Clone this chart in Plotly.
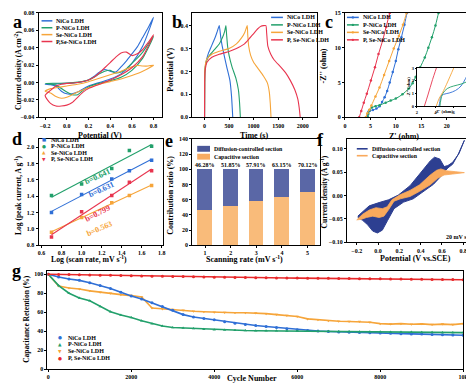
import plotly.graph_objects as go
import numpy as np

FONT = "Liberation Serif"
W, H = 474, 383
C_BLUE, C_GREEN, C_ORANGE, C_RED = "#2f6fd6", "#22a06b", "#f6a53a", "#e8354f"
NAMES = ["NiCo LDH", "P-NiCo LDH", "Se-NiCo LDH", "P, Se-NiCo LDH"]
COLS = [C_BLUE, C_GREEN, C_ORANGE, C_RED]

# ---------------- (a) CV curves ----------------
a_nico_x = [-0.2, -0.1, 0.0, 0.1, 0.2, 0.25, 0.3, 0.35, 0.4, 0.45, 0.5, 0.55, 0.6, 0.65, 0.7, 0.75, 0.8,
            0.7, 0.6, 0.5, 0.4, 0.3, 0.2, 0.1, 0.05, 0.0, -0.05, -0.1, -0.15, -0.2]
a_nico_y = [-0.002, -0.0015, -0.001, 0.0, 0.003, 0.007, 0.012, 0.015, 0.013, 0.012, 0.018, 0.025, 0.033, 0.041, 0.052, 0.063, 0.075,
            0.042, 0.022, 0.010, 0.004, 0.0, -0.004, -0.011, -0.013, -0.013, -0.010, -0.004, -0.0025, -0.002]
a_pnico_x = [-0.2, -0.1, 0.0, 0.1, 0.2, 0.25, 0.3, 0.35, 0.4, 0.45, 0.5, 0.55, 0.6, 0.65, 0.7, 0.75, 0.8,
             0.7, 0.6, 0.5, 0.4, 0.3, 0.2, 0.15, 0.1, 0.05, 0.0, -0.1, -0.2]
a_pnico_y = [-0.001, -0.0008, -0.0005, 0.0005, 0.003, 0.006, 0.010, 0.013, 0.014, 0.011, 0.012, 0.016, 0.022, 0.028, 0.035, 0.044, 0.053,
             0.028, 0.014, 0.006, 0.002, -0.001, -0.005, -0.009, -0.014, -0.014, -0.011, -0.003, -0.001]
a_senico_x = [-0.2, -0.15, -0.1, 0.0, 0.1, 0.2, 0.3, 0.4, 0.5, 0.6, 0.65, 0.7, 0.75, 0.8,
              0.7, 0.6, 0.5, 0.4, 0.3, 0.2, 0.1, 0.05, 0.0, -0.05, -0.1, -0.15, -0.2]
a_senico_y = [-0.010, -0.007, -0.006, -0.004, -0.002, 0.001, 0.005, 0.009, 0.013, 0.018, 0.0195, 0.019, 0.019, 0.020,
              0.013, 0.008, 0.004, 0.001, -0.002, -0.006, -0.011, -0.014, -0.017, -0.018, -0.016, -0.012, -0.010]
a_psenico_x = [-0.2, -0.15, -0.1, -0.05, 0.0, 0.1, 0.2, 0.25, 0.3, 0.35, 0.4, 0.45, 0.5, 0.55, 0.6, 0.65, 0.7, 0.75, 0.8,
               0.7, 0.6, 0.5, 0.4, 0.3, 0.2, 0.15, 0.1, 0.05, 0.0, -0.05, -0.1, -0.15, -0.2]
a_psenico_y = [-0.015, -0.009, -0.004, -0.002, -0.001, 0.0, 0.003, 0.006, 0.011, 0.017, 0.023, 0.029, 0.034, 0.035, 0.031, 0.033, 0.038, 0.046, 0.055,
               0.030, 0.017, 0.009, 0.003, -0.002, -0.007, -0.011, -0.017, -0.023, -0.026, -0.027, -0.027, -0.024, -0.015]

# ---------------- (b) GCD ----------------
b_nico_t = [0, 3, 10, 40, 80, 120, 170, 220, 260, 300, 330, 352, 400, 452, 518, 551, 565, 575]
b_nico_v = [0, 0.15, 0.21, 0.25, 0.28, 0.30, 0.325, 0.35, 0.375, 0.40, 0.35, 0.32, 0.27, 0.22, 0.16, 0.09, 0.04, 0.0]
b_pnico_t = [0, 3, 10, 40, 100, 200, 300, 370, 410, 435, 450, 470, 500, 560, 640, 690, 715, 730]
b_pnico_v = [0, 0.15, 0.21, 0.245, 0.27, 0.295, 0.32, 0.35, 0.375, 0.40, 0.36, 0.31, 0.27, 0.22, 0.17, 0.12, 0.06, 0.0]
b_senico_t = [0, 3, 10, 50, 150, 300, 500, 650, 750, 820, 870, 880, 900, 940, 1000, 1100, 1200, 1280, 1320, 1340, 1350, 1355]
b_senico_v = [0, 0.15, 0.22, 0.255, 0.275, 0.288, 0.30, 0.32, 0.345, 0.37, 0.40, 0.36, 0.31, 0.27, 0.24, 0.21, 0.18, 0.15, 0.11, 0.06, 0.02, 0.0]
b_psenico_t = [0, 3, 10, 50, 150, 300, 500, 650, 800, 900, 1000, 1080, 1150, 1250, 1265, 1290, 1350, 1420, 1550, 1650, 1750, 1840, 1900, 1930, 1950]
b_psenico_v = [0, 0.15, 0.20, 0.24, 0.262, 0.275, 0.287, 0.30, 0.318, 0.34, 0.365, 0.385, 0.397, 0.40, 0.37, 0.31, 0.275, 0.25, 0.22, 0.195, 0.16, 0.12, 0.08, 0.04, 0.0]

# ---------------- (c) Nyquist ----------------
c_nico_x = [4.4, 4.5, 4.6, 4.9, 5.5, 6.2, 6.8, 7.3, 7.8, 8.3, 8.8, 9.4, 10.0, 10.5, 11.1, 11.7, 12.2, 12.4]
c_nico_y = [0.0, 0.4, 0.8, 0.95, 1.05, 1.25, 1.6, 2.2, 2.9, 3.8, 5.0, 6.5, 8.1, 9.8, 11.5, 13.3, 15.0, 15.5]
c_pnico_x = [4.5, 4.6, 4.8, 5.3, 6.0, 6.8, 8.0, 9.0, 10.0, 11.3, 12.5, 13.3, 13.9, 14.8, 15.7, 16.4, 17.1, 17.8, 18.4, 18.6]
c_pnico_y = [0.0, 0.5, 1.0, 1.4, 1.6, 1.75, 2.1, 2.4, 2.7, 3.3, 4.1, 4.9, 5.8, 7.2, 8.6, 10.0, 11.5, 13.2, 15.0, 15.5]
c_senico_x = [4.1, 4.4, 4.8, 5.2, 6.0, 6.8, 7.7, 8.7, 9.6, 10.6, 11.4, 12.1, 12.3]
c_senico_y = [0.0, 0.6, 1.1, 1.7, 3.0, 4.3, 6.1, 8.1, 9.9, 11.7, 13.3, 15.0, 15.5]
c_psenico_x = [2.8, 3.2, 3.7, 4.3, 5.1, 5.9, 6.6, 7.4, 8.1, 8.8, 9.0]
c_psenico_y = [0.0, 0.9, 2.1, 3.4, 5.3, 7.2, 9.1, 11.0, 13.0, 15.0, 15.5]

# ---------------- (d) log i vs log v ----------------
d_logv = [0.699, 1.0, 1.301, 1.477, 1.699]
d_nico = [1.20, 1.42, 1.61, 1.71, 1.84]
d_pnico = [1.41, 1.55, 1.74, 1.96, 2.01]
d_senico = [0.96, 1.14, 1.32, 1.41, 1.53]
d_psenico = [0.90, 1.21, 1.41, 1.57, 1.71]
d_b_labels = ["b=0.631", "b=0.641", "b=0.563", "b=0.799"]

# ---------------- (e) contribution ----------------
e_rates = [1, 2, 3, 4, 5]
e_capacitive = [46.28, 51.85, 57.91, 63.15, 70.12]
e_diffusion = [100 - v for v in e_capacitive]

# ---------------- (f) CV separation ----------------
f_total_x = [-0.19, -0.14, -0.083, 0.01, 0.10, 0.19, 0.30, 0.39, 0.45, 0.49, 0.53, 0.58, 0.62, 0.655, 0.70, 0.76, 0.81,
             0.80, 0.75, 0.70, 0.655, 0.62, 0.61, 0.52, 0.42, 0.33, 0.24, 0.15, 0.09, 0.04, -0.006, -0.05, -0.10, -0.145, -0.19]
f_total_y = [-0.044, -0.033, -0.022, -0.015, -0.009, 0.001, 0.021, 0.046, 0.064, 0.074, 0.082, 0.078, 0.062, 0.064, 0.071, 0.090, 0.118,
             0.113, 0.087, 0.067, 0.059, 0.050, 0.046, 0.024, 0.007, -0.007, -0.014, -0.028, -0.053, -0.074, -0.080, -0.076, -0.062, -0.053, -0.047]
f_cap_x = [-0.2, -0.145, -0.083, -0.02, 0.04, 0.086, 0.13, 0.21, 0.30, 0.39, 0.49, 0.55, 0.59, 0.64, 0.73, 0.81,
           0.70, 0.62, 0.56, 0.49, 0.39, 0.30, 0.21, 0.15, 0.10, 0.055, 0.01, -0.05, -0.11, -0.16, -0.2]
f_cap_y = [-0.052, -0.040, -0.031, -0.026, -0.028, -0.024, -0.009, 0.002, 0.011, 0.023, 0.044, 0.054, 0.057, 0.053, 0.051, 0.049,
           0.046, 0.044, 0.037, 0.023, 0.009, -0.002, -0.007, -0.012, -0.030, -0.044, -0.047, -0.044, -0.047, -0.051, -0.052]

# ---------------- (g) cycling ----------------
g_cycles = list(range(0, 10001, 250))
g_nico = [100, 97, 95, 93.5, 91, 88, 85, 81, 77, 74, 70, 66, 62, 57.5, 55, 53.5, 52, 50, 48.5, 47, 46, 45, 44, 42.5,
          41.5, 40.8, 40.2, 39.7, 39.3, 39, 38.7, 38.4, 38.1, 37.8, 37.5, 37.2, 37, 36.7, 36.4, 36.1, 35.8]
g_pnico = [100, 88, 80, 75, 72, 66, 60.5, 57, 54.5, 51, 48, 45.5, 44, 43.5, 42.8, 42.2, 41.7, 41.3, 41, 40.8, 40.6,
           40.5, 40.4, 40.3, 40.2, 40.1, 40, 39.9, 39.8, 39.7, 39.6, 39.5, 39.4, 39.3, 39.2, 39.1, 39, 38.9, 38.8, 38.7, 38.6]
g_senico = [100, 87.5, 85.5, 84.5, 82.5, 81, 80, 78.5, 77.5, 76, 64.5, 63.5, 63, 62, 61, 60.5, 60, 59.8, 59.5, 59.5,
            59.3, 58.5, 57.5, 56.5, 55.5, 53, 52, 51, 50.5, 50.3, 50.2, 49.5, 48, 47.5, 48, 47.3, 47.8, 47, 47.5, 47, 48]
g_psenico = [100, 99.8, 99.6, 99.4, 99.2, 99.0, 98.8, 98.6, 98.3, 98.1, 97.9, 97.8, 97.6, 97.5, 97.3, 97.1, 96.9,
             96.8, 96.6, 96.5, 96.3, 96.2, 96.1, 96.0, 95.9, 95.8, 95.7, 95.6, 95.5, 95.4, 95.3, 95.2, 95.1, 95.0,
             94.9, 94.8, 94.6, 94.5, 94.4, 94.3, 94.2]

# =====================================================================
def PX(px):
    return px / W

def PY(py):
    return 1 - py / H

fig = go.Figure()

def axis(dom, rng, tickvals, fmt=None, anchor=None, fs=6, ticklen=2):
    d = dict(domain=dom, range=rng, tickvals=tickvals, showline=True, mirror=True,
             linecolor="black", linewidth=1, ticks="outside", ticklen=ticklen, tickwidth=1,
             tickcolor="black", showgrid=False, zeroline=False, anchor=anchor,
             tickfont=dict(family=FONT, size=fs, color="black", weight="bold"))
    if fmt:
        d["tickformat"] = fmt
    return d

lay = {}
lay["xaxis"] = axis([PX(29), PX(154)], [-0.26, 0.875], [-0.2, 0, 0.2, 0.4, 0.6, 0.8], ".1f", "y")
lay["yaxis"] = axis([PY(108), PY(2)], [-0.04, 0.08], [-0.04, -0.02, 0, 0.02, 0.04, 0.06, 0.08], ".2f", "x")
lay["xaxis2"] = axis([PX(185), PX(312)], [-250, 2300], [0, 500, 1000, 1500, 2000], None, "y2")
lay["yaxis2"] = axis([PY(108), PY(2)], [0, 0.455], [0, 0.1, 0.2, 0.3, 0.4], ".1f", "x2")
lay["xaxis3"] = axis([PX(340), PX(469)], [0, 25], [0, 5, 10, 15, 20, 25], None, "y3")
lay["yaxis3"] = axis([PY(108), PY(2)], [0, 15], [0, 5, 10, 15], None, "x3")
lay["xaxis4"] = axis([PX(413), PX(469)], [2, 8], [2, 4, 6, 8], None, "y4", fs=4.5, ticklen=1)
lay["yaxis4"] = axis([PY(97), PY(58)], [0, 3], [0, 1, 2, 3], None, "x4", fs=4.5, ticklen=1)
lay["xaxis5"] = axis([PX(29), PX(155)], [0.57, 1.81], [0.6, 0.8, 1.0, 1.2, 1.4, 1.6, 1.8], ".1f", "y5")
lay["yaxis5"] = axis([PY(238), PY(130)], [0.8, 2.1], [0.8, 1.0, 1.2, 1.4, 1.6, 1.8, 2.0], ".1f", "x5")
lay["xaxis6"] = axis([PX(185), PX(315)], [0.5, 5.5], e_rates, None, "y6")
lay["yaxis6"] = axis([PY(238), PY(130)], [0, 140], [0, 20, 40, 60, 80, 100, 120, 140], None, "x6")
lay["xaxis7"] = axis([PX(342), PX(471)], [-0.292, 0.901], [-0.2, 0, 0.2, 0.4, 0.6, 0.8], ".1f", "y7")
lay["yaxis7"] = axis([PY(235), PY(130)], [-0.10, 0.121], [-0.10, -0.05, 0, 0.05, 0.10], ".2f", "x7")
lay["xaxis8"] = axis([PX(38), PX(460)], [-20, 10000], [0, 2000, 4000, 6000, 8000, 10000], None, "y8")
lay["yaxis8"] = axis([PY(364), PY(264)], [0, 103.5], [0, 20, 40, 60, 80, 100], None, "x8")

for xs, ys, c in [(a_nico_x, a_nico_y, C_BLUE), (a_pnico_x, a_pnico_y, C_GREEN),
                  (a_senico_x, a_senico_y, C_ORANGE), (a_psenico_x, a_psenico_y, C_RED)]:
    fig.add_trace(go.Scatter(x=xs, y=ys, mode="lines", line=dict(color=c, width=1.1, shape="spline", smoothing=0.6),
                             xaxis="x", yaxis="y", showlegend=False))
for xs, ys, c in [(b_nico_t, b_nico_v, C_BLUE), (b_pnico_t, b_pnico_v, C_GREEN),
                  (b_senico_t, b_senico_v, C_ORANGE), (b_psenico_t, b_psenico_v, C_RED)]:
    fig.add_trace(go.Scatter(x=xs, y=ys, mode="lines", line=dict(color=c, width=1.1, shape="spline", smoothing=0.5),
                             xaxis="x2", yaxis="y2", showlegend=False))
c_sets = [(c_nico_x, c_nico_y, C_BLUE), (c_pnico_x, c_pnico_y, C_GREEN),
          (c_senico_x, c_senico_y, C_ORANGE), (c_psenico_x, c_psenico_y, C_RED)]
for xs, ys, c in c_sets:
    fig.add_trace(go.Scatter(x=xs, y=ys, mode="lines+markers", line=dict(color=c, width=1, shape="spline"),
                             marker=dict(color=c, size=2.5), xaxis="x3", yaxis="y3", showlegend=False))
for xs, ys, c in c_sets:
    fig.add_trace(go.Scatter(x=xs, y=ys, mode="lines", line=dict(color=c, width=0.9, shape="spline"),
                             xaxis="x4", yaxis="y4", showlegend=False))
d_sets = [(d_nico, C_BLUE), (d_pnico, C_GREEN), (d_senico, C_ORANGE), (d_psenico, C_RED)]
for ys, c in d_sets:
    k, b0 = np.polyfit(d_logv, ys, 1)
    xl = [d_logv[0], d_logv[-1]]
    fig.add_trace(go.Scatter(x=xl, y=[k * v + b0 for v in xl], mode="lines", line=dict(color=c, width=1.1),
                             xaxis="x5", yaxis="y5", showlegend=False))
    fig.add_trace(go.Scatter(x=d_logv, y=ys, mode="markers", marker=dict(color=c, size=3.5, symbol="square"),
                             xaxis="x5", yaxis="y5", showlegend=False))
fig.add_trace(go.Bar(x=e_rates, y=e_capacitive, marker=dict(color="#f9bb7a", line=dict(width=0)), width=0.58,
                     xaxis="x6", yaxis="y6", showlegend=False))
fig.add_trace(go.Bar(x=e_rates, y=e_diffusion, marker=dict(color="#5a67a6", line=dict(width=0)), width=0.58,
                     xaxis="x6", yaxis="y6", showlegend=False))
lay["barmode"] = "stack"
fig.add_trace(go.Scatter(x=f_total_x, y=f_total_y, mode="lines", fill="toself", fillcolor="#2d3f91",
                         line=dict(color="#2d3f91", width=1),
                         xaxis="x7", yaxis="y7", showlegend=False))
fig.add_trace(go.Scatter(x=f_cap_x, y=f_cap_y, mode="lines", fill="toself", fillcolor="#f9a95c",
                         line=dict(color="#f9a95c", width=0.8),
                         xaxis="x7", yaxis="y7", showlegend=False))
g_sets = [(g_senico, C_ORANGE, "triangle-down"), (g_nico, C_BLUE, "circle"),
          (g_pnico, C_GREEN, "triangle-up"), (g_psenico, "#e8282a", "circle")]
for ys, c, sym in g_sets:
    fig.add_trace(go.Scatter(x=g_cycles, y=ys, mode="lines+markers", line=dict(color=c, width=1.6),
                             marker=dict(color=c, size=3, symbol=sym), xaxis="x8", yaxis="y8", showlegend=False))

ann = []
shapes = []

def text(px, py, s, size=8, angle=0, xa="center", ya="middle", color="black"):
    ann.append(dict(x=PX(px), y=PY(py), xref="paper", yref="paper", text="<b>" + s + "</b>", showarrow=False,
                    textangle=angle, xanchor=xa, yanchor=ya,
                    font=dict(family=FONT, size=size, color=color)))

for L, px, py in [("a", 1, 11), ("b", 162, 11), ("c", 318, 11), ("d", 0, 130), ("e", 155, 132),
                  ("f", 310, 131), ("g", 0, 264)]:
    text(px, py, L, size=18, xa="left")

text(8, 60, "Current density (A cm<sup>-2</sup>)", size=7.5, angle=-90)
text(91, 126, "Potential (V)")
text(162, 60, "Potential (V)", angle=-90)
text(248, 126, "Time (s)")
text(318, 56, "-Z'' (ohm)", angle=-90)
text(400, 127, "Z' (ohm)")
text(8, 187, "Log (peak current, A g<sup>-1</sup>)", size=7.5, angle=-90)
text(80, 252, "Log (scan rate, mV s<sup>-1</sup>)", size=7.8)
text(162, 187, "Contribution ratio (%)", angle=-90)
text(238, 252, "Scanning rate (mV s<sup>-1</sup>)")
text(319, 184, "Current density (A g<sup>-1</sup>)", size=7.5, angle=-90)
text(412, 251, "Potential (V vs.SCE)")
text(16, 313, "Capacitance Retention (%)", size=7.5, angle=-90)
text(246, 373, "Cycle Number")

text(441, 102, "Z' (ohm)", size=4.5)
text(405, 77, "-Z'' (ohm)", size=4.5, angle=-90)

def line_swatch(x0, x1, py, color, width=1.5):
    shapes.append(dict(type="line", xref="paper", yref="paper", x0=PX(x0), x1=PX(x1), y0=PY(py), y1=PY(py),
                       line=dict(color=color, width=width)))

a_names = ["NiCo LDH", "P-NiCo LDH", "Se-NiCo LDH", "P,Se-NiCo LDH"]
for i, (nm, c) in enumerate(zip(a_names, COLS)):
    py = 10 + i * 7
    line_swatch(32, 43, py, c)
    text(45, py, nm, size=6, xa="left")
for i, (nm, c) in enumerate(zip(NAMES, COLS)):
    py = 6.5 + i * 7.6
    line_swatch(265, 277, py, c)
    text(279, py, nm, size=6, xa="left")
for i, (nm, c) in enumerate(zip(NAMES, COLS)):
    py = 6.5 + i * 7.6
    line_swatch(342, 354, py, c)
    shapes.append(dict(type="circle", xref="paper", yref="paper", x0=PX(346.8), x1=PX(349.2),
                       y0=PY(py + 1.2), y1=PY(py - 1.2), fillcolor=c, line=dict(width=0)))
    text(356, py, nm, size=6, xa="left")
d_syms = ["■", "●", "▲", "▼"]
for i, (nm, c, sm) in enumerate(zip(NAMES, COLS, d_syms)):
    py = 131 + i * 6.5
    ann.append(dict(x=PX(34.5), y=PY(py), xref="paper", yref="paper", text=sm, showarrow=False,
                    font=dict(family="DejaVu Sans", size=4.5, color=c), xanchor="center", yanchor="middle"))
    text(40, py, nm, size=6, xa="left")
for (xv, yv, s, c, ang) in [(1.20, 1.48, d_b_labels[0], C_BLUE, -25), (1.16, 1.64, d_b_labels[1], C_GREEN, -25),
                            (1.18, 1.00, d_b_labels[2], C_ORANGE, -23), (1.16, 1.19, d_b_labels[3], C_RED, -28)]:
    ann.append(dict(x=xv, y=yv, xref="x5", yref="y5", text="<b>" + s + "</b>", showarrow=False, textangle=ang,
                    font=dict(family=FONT, size=8, color=c)))
for r, v in zip(e_rates, e_capacitive):
    ann.append(dict(x=r, y=100, xref="x6", yref="y6", text="<b>%.2f%%</b>" % v, showarrow=False,
                    yanchor="bottom", yshift=-1, font=dict(family=FONT, size=6, color="black")))
for py, col, nm in [(140, "#4a5798", "Diffusion-controlled section"), (148, "#f7ab62", "Capacitive section")]:
    shapes.append(dict(type="rect", xref="paper", yref="paper", x0=PX(190), x1=PX(203), y0=PY(py + 3),
                       y1=PY(py - 3), fillcolor=col, line=dict(width=0)))
    text(205, py, nm, size=5.8, xa="left")
for py, col, nm in [(140, "#2d3f91", "Diffusion-controlled section"), (147, "#f9a95c", "Capacitive section")]:
    line_swatch(352, 363, py, col, width=1.6)
    text(365, py, nm, size=5.8, xa="left")
text(455, 229, "20 mV s<sup>-1</sup>", size=6)
g_leg = [("●", C_BLUE), ("▲", C_GREEN), ("▼", C_ORANGE), ("●", "#e8282a")]
for i, (nm, (sm, c)) in enumerate(zip(NAMES, g_leg)):
    py = 331.7 + i * 7
    ann.append(dict(x=PX(50.7), y=PY(py), xref="paper", yref="paper", text=sm, showarrow=False,
                    font=dict(family="DejaVu Sans", size=4.5, color=c), xanchor="center", yanchor="middle"))
    text(57, py, nm, size=6, xa="left")

fig.update_layout(**lay)
fig.update_layout(width=W, height=H, margin=dict(l=0, r=0, t=0, b=0), paper_bgcolor="white",
                  plot_bgcolor="white", annotations=ann, shapes=shapes, showlegend=False,
                  font=dict(family=FONT, color="black"), bargap=0)
fig.write_html("out.html")
